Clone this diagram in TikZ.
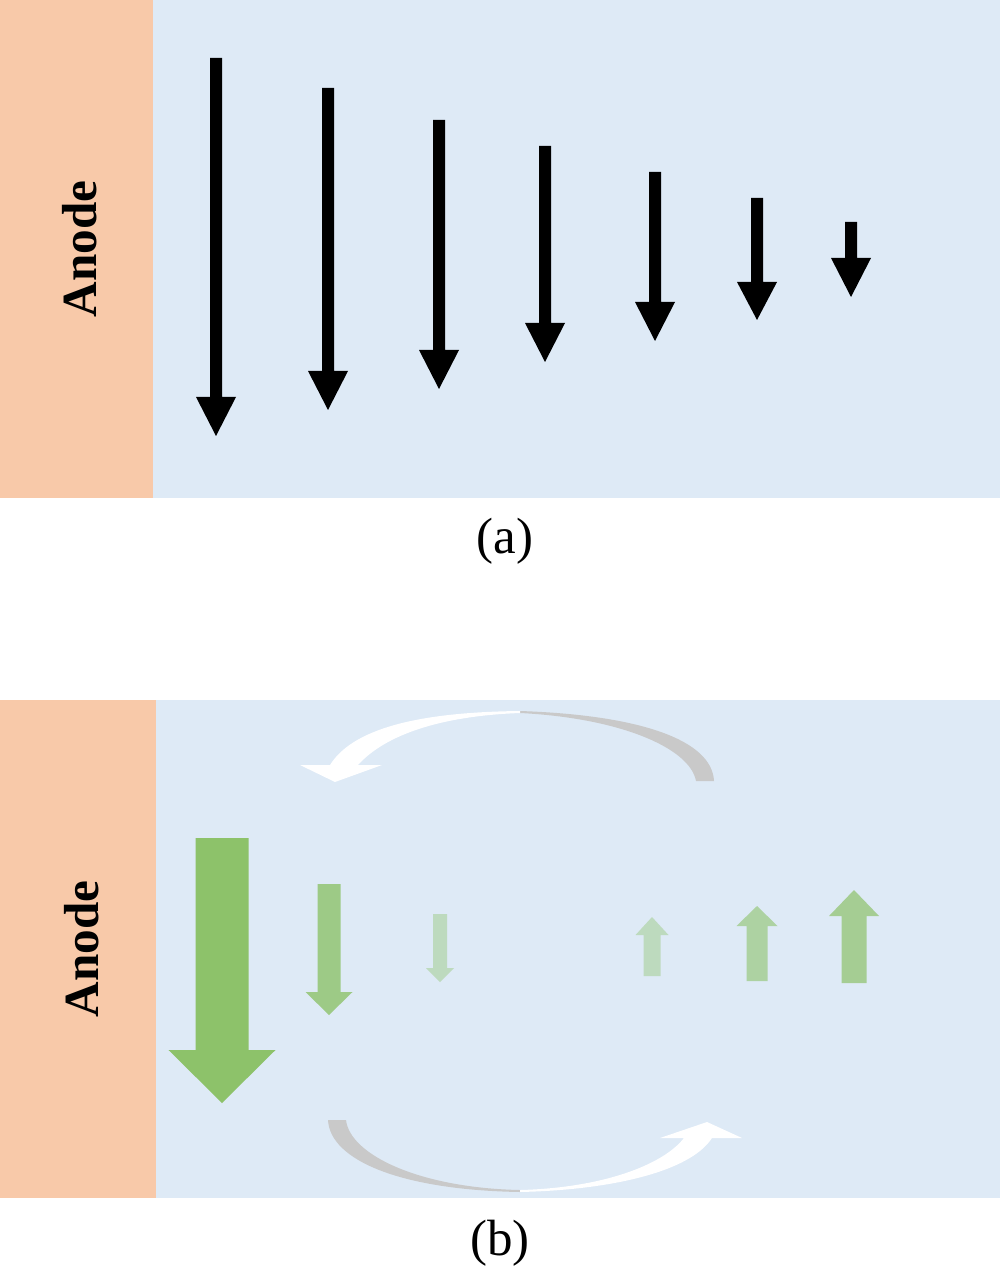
\documentclass[tikz,border=0pt]{standalone}
\usepackage{fontspec}
\setmainfont{Liberation Serif}
\definecolor{anode}{HTML}{F8C9A9}
\definecolor{electrolyte}{HTML}{DEEAF6}
\definecolor{flux}{HTML}{8DC26A}
\definecolor{swirl}{HTML}{C9C9C9}
% #1 x, #2 tail y, #3 head base y, #4 tip y, #5 half shaft, #6 half head
\newcommand{\fluxarrow}[7][]{%
  \fill[#1] (#2-#6,#3) -- (#2+#6,#3) -- (#2+#6,#4) -- (#2+#7,#4) -- (#2,#5)
    -- (#2-#7,#4) -- (#2-#6,#4) -- cycle;}
\begin{document}
\begin{tikzpicture}[x=0.02cm,y=-0.02cm,
        label/.style={font=\fontsize{29}{34}\selectfont},
        side/.style={font=\bfseries\fontsize{28}{32}\selectfont,rotate=90}]
\useasboundingbox (0,0) rectangle (1000,1266);

% (a)
\fill[anode] (0,0) rectangle (153,498);
\fill[electrolyte] (153,0) rectangle (1000,498);
\node[side] (anodeA) at (80,249) {Anode};
\foreach \x/\t/\b/\e in {216/58/397/436, 328/88/371/410, 439/120/350/389,
    545/146/323/362, 655/172/302/341, 757/198/282/320, 851/222/258/297}
  \fluxarrow[black]{\x}{\t}{\b}{\e}{6}{20};
\node[label] (capA) at (505,541) {(a)};

% (b)
\fill[anode] (0,700) rectangle (156,1198);
\fill[electrolyte] (156,700) rectangle (1000,1198);
\node[side] (anodeB) at (82,949) {Anode};
\fluxarrow[flux]{222}{838}{1050}{1103}{26.5}{53.5};
\fluxarrow[flux,opacity=0.8]{329}{884}{992}{1015}{11.5}{23.5};
\fluxarrow[flux,opacity=0.4]{440}{914}{968}{982}{7}{14};
\fluxarrow[flux,opacity=0.4]{652}{976}{935}{917}{8.5}{16.5};
\fluxarrow[flux,opacity=0.6]{757}{981}{926}{906}{10.5}{20.5};
\fluxarrow[flux,opacity=0.7]{854}{983}{916}{890}{12.5}{25};

% circulation
\fill[swirl] (520,711) .. controls (640,715) and (712,740) .. (714,781)
  -- (696,781) .. controls (690,748) and (620,718) .. (520,713) -- cycle;
\fill[white] (520,711) .. controls (430,712) and (355,725) .. (330,765)
  -- (300,765) -- (335,782) -- (382,765) -- (358,765)
  .. controls (385,735) and (440,716) .. (520,713) -- cycle;
\fill[swirl] (520,1192) .. controls (400,1190) and (330,1160) .. (328,1120)
  -- (346,1120) .. controls (350,1155) and (420,1188) .. (520,1190) -- cycle;
\fill[white] (520,1192) .. controls (610,1190) and (690,1172) .. (712,1138)
  -- (742,1138) -- (707,1122) -- (660,1138) -- (684,1138)
  .. controls (662,1166) and (600,1188) .. (520,1190) -- cycle;
\node[label] (capB) at (500,1243) {(b)};
\end{tikzpicture}
\end{document}
